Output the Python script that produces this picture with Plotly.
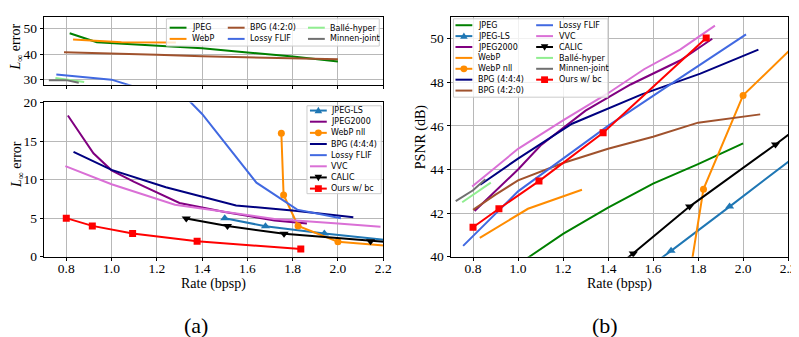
import plotly.graph_objects as go

W, H = 799, 337

# ---------------- data ----------------
jpeg_rate = [0.815, 0.935, 1.05, 1.2, 1.4, 1.6, 1.8, 2.0]
jpeg_linf = [48.1, 44.6, 44.0, 43.3, 42.3, 40.6, 39.0, 37.1]
jpeg_psnr = [38.5, 39.2, 40.0, 41.05, 42.25, 43.35, 44.25, 45.2]

jpegls_rate = [1.5, 1.68, 1.94, 2.27]
jpegls_linf = [5.0, 3.95, 3.0, 2.0]
jpegls_psnr = [38.9, 40.27, 42.3, 44.9]

j2k_rate = [0.807, 0.92, 1.0, 1.1, 1.3, 1.5, 1.72, 1.863]
j2k_linf = [18.3, 13.4, 11.2, 9.7, 6.97, 5.8, 4.7, 4.3]
j2k_psnr = [42.1, 43.2, 44.0, 45.1, 46.7, 47.9, 49.0, 50.0]

webp_rate = [0.83, 1.044, 1.284]
webp_linf = [45.7, 44.6, 44.5]
webp_psnr = [40.87, 42.2, 43.07]

webpnll_rate = [1.75, 1.76, 1.824, 2.0, 2.4]
webpnll_linf = [16.0, 8.0, 4.0, 1.95, 1.0]
webpnll_psnr = [36.5, 39.0, 43.1, 47.4, 51.4]

bpg444_rate = [0.832, 1.0, 1.24, 1.55, 1.81, 2.068]
bpg444_linf = [13.6, 11.25, 9.0, 6.65, 5.95, 5.12]
bpg444_psnr = [43.3, 44.5, 46.1, 47.45, 48.4, 49.5]

bpg420_rate_l = [0.79, 1.0, 1.2, 1.4, 1.6, 1.8, 2.0]
bpg420_linf = [40.7, 40.3, 39.7, 39.1, 38.8, 38.5, 38.0]
bpg420_rate_p = [0.8, 0.9, 1.0, 1.2, 1.4, 1.6, 1.8, 2.0, 2.076]
bpg420_psnr = [42.15, 42.85, 43.5, 44.3, 44.95, 45.5, 46.15, 46.45, 46.53]

flif_rate = [0.756, 1.0, 1.2, 1.4, 1.64, 1.82, 2.013]
flif_linf = [32.0, 30.0, 24.5, 18.5, 9.6, 6.1, 5.0]
flif_psnr = [40.5, 43.0, 44.5, 46.0, 47.65, 48.9, 50.2]

vvc_rate_l = [0.796, 1.0, 1.28, 1.5, 1.72, 2.0, 2.188]
vvc_linf = [11.75, 9.4, 6.75, 5.8, 4.9, 4.3, 3.9]
vvc_rate_p = [0.796, 1.0, 1.2, 1.4, 1.56, 1.72, 1.875]
vvc_psnr = [43.22, 44.95, 46.25, 47.5, 48.6, 49.5, 50.6]

calic_rate = [1.33, 1.512, 1.762, 2.144, 2.6]
calic_linf = [4.95, 3.97, 2.97, 2.0, 1.0]
calic_psnr = [38.6, 40.15, 42.3, 45.15, 48.7]

balle_rate = [0.752, 0.879]
balle_linf = [30.6, 29.1]
balle_psnr = [42.5, 43.4]

minnen_rate = [0.723, 0.80, 0.855]
minnen_linf = [29.8, 29.8, 28.8]
minnen_psnr = [42.55, 43.05, 43.55]

ours_rate = [0.80, 0.915, 1.093, 1.378, 1.836]
ours_linf = [5.0, 4.0, 3.0, 2.0, 1.0]
ours_psnr = [41.35, 42.2, 43.47, 45.69, 50.03]

x_ticks = [0.8, 1.0, 1.2, 1.4, 1.6, 1.8, 2.0, 2.2]
x_ticklabels = ["0.8", "1.0", "1.2", "1.4", "1.6", "1.8", "2.0", "2.2"]
y_top_ticks = [30, 40, 50]
y_bot_ticks = [0, 5, 10, 15, 20]
y_psnr_ticks = [40, 42, 44, 46, 48, 50]

# ---------------- styles ----------------
STY = {
    "JPEG": ("#008000", None),
    "JPEG-LS": ("#1f77b4", "triangle-up"),
    "JPEG2000": ("#800080", None),
    "WebP": ("#ff8c00", None),
    "WebP nll": ("#ff8c00", "circle"),
    "BPG (4:4:4)": ("#000080", None),
    "BPG (4:2:0)": ("#a0522d", None),
    "Lossy FLIF": ("#4169e1", None),
    "VVC": ("#da70d6", None),
    "CALIC": ("#000000", "triangle-down"),
    "Ballé-hyper": ("#90ee90", None),
    "Minnen-joint": ("#707070", None),
    "Ours w/ bc": ("#ff0000", "square"),
}
MSIZE = {"triangle-up": 8, "triangle-down": 8, "circle": 7, "square": 7}

fig = go.Figure()


def add(name, xs, ys, xa, ya):
    color, sym = STY[name]
    kw = dict(x=xs, y=ys, name=name, showlegend=False, xaxis=xa, yaxis=ya,
              line=dict(color=color, width=2), hoverinfo="skip")
    if sym:
        kw["mode"] = "lines+markers"
        kw["marker"] = dict(symbol=sym, size=MSIZE[sym], color=color, line=dict(width=0))
    else:
        kw["mode"] = "lines"
    fig.add_trace(go.Scatter(**kw))


# left top (broken axis, high L-inf)
add("JPEG", jpeg_rate, jpeg_linf, "x2", "y2")
add("WebP", webp_rate, webp_linf, "x2", "y2")
add("BPG (4:2:0)", bpg420_rate_l, bpg420_linf, "x2", "y2")
add("Lossy FLIF", flif_rate, flif_linf, "x2", "y2")
add("Ballé-hyper", balle_rate, balle_linf, "x2", "y2")
add("Minnen-joint", minnen_rate, minnen_linf, "x2", "y2")

# left bottom
add("JPEG-LS", jpegls_rate, jpegls_linf, "x", "y")
add("JPEG2000", j2k_rate, j2k_linf, "x", "y")
add("WebP nll", webpnll_rate, webpnll_linf, "x", "y")
add("BPG (4:4:4)", bpg444_rate, bpg444_linf, "x", "y")
add("Lossy FLIF", flif_rate, flif_linf, "x", "y")
add("VVC", vvc_rate_l, vvc_linf, "x", "y")
add("CALIC", calic_rate, calic_linf, "x", "y")
add("Ours w/ bc", ours_rate, ours_linf, "x", "y")

# right (PSNR)
add("JPEG", jpeg_rate, jpeg_psnr, "x3", "y3")
add("JPEG-LS", jpegls_rate, jpegls_psnr, "x3", "y3")
add("JPEG2000", j2k_rate, j2k_psnr, "x3", "y3")
add("WebP", webp_rate, webp_psnr, "x3", "y3")
add("WebP nll", webpnll_rate, webpnll_psnr, "x3", "y3")
add("BPG (4:4:4)", bpg444_rate, bpg444_psnr, "x3", "y3")
add("BPG (4:2:0)", bpg420_rate_p, bpg420_psnr, "x3", "y3")
add("Lossy FLIF", flif_rate, flif_psnr, "x3", "y3")
add("VVC", vvc_rate_p, vvc_psnr, "x3", "y3")
add("CALIC", calic_rate, calic_psnr, "x3", "y3")
add("Ballé-hyper", balle_rate, balle_psnr, "x3", "y3")
add("Minnen-joint", minnen_rate, minnen_psnr, "x3", "y3")
add("Ours w/ bc", ours_rate, ours_psnr, "x3", "y3")


def px(x):
    return x / W


def py(y):
    return 1 - y / H


SERIF = "Liberation Serif, Times New Roman, serif"
tickfont = dict(family=SERIF, size=13.5, color="black")


def xax(dom, labels=True):
    return dict(domain=dom, range=[0.7, 2.2], tickvals=x_ticks, ticktext=x_ticklabels,
                showticklabels=labels, ticks="outside", ticklen=3, tickcolor="black",
                showline=True, linecolor="black", linewidth=1, mirror=True,
                showgrid=True, gridcolor="#b8b8b8", gridwidth=1, zeroline=False,
                tickfont=tickfont, fixedrange=True, ticklabelstandoff=-4)


def yax(dom, rng, ticks):
    return dict(domain=dom, range=rng, tickvals=ticks, ticks="outside", ticklen=3,
                tickcolor="black", showline=True, linecolor="black", linewidth=1,
                mirror=True, showgrid=True, gridcolor="#b8b8b8", gridwidth=1,
                zeroline=False, tickfont=tickfont, fixedrange=True)


LX = [px(36), px(379)]
RX = [px(447), px(788)]
fig.update_layout(
    width=W, height=H, margin=dict(l=0, r=0, t=0, b=0),
    paper_bgcolor="white", plot_bgcolor="white", showlegend=False,
    xaxis=dict(xax(LX), anchor="y"),
    yaxis=dict(yax([py(253), py(91.5)], [0, 20], y_bot_ticks), anchor="x"),
    xaxis2=dict(xax(LX, labels=False), anchor="y2"),
    yaxis2=dict(yax([py(73), py(2)], [28, 54.5], y_top_ticks), anchor="x2"),
    xaxis3=dict(xax(RX), anchor="y3"),
    yaxis3=dict(yax([py(253), py(2)], [40, 51], y_psnr_ticks), anchor="x3"),
)

shapes = []
annots = []
LEGFONT = dict(family="DejaVu Sans", size=8, color="black")


def legend(box, cols, y0, dy, hx_len=17, tx_off=21.5):
    # box: (x0, y0, x1, y1) in pixels; cols: list of (handle_x, [names])
    bx0, by0, bx1, by1 = box
    shapes.append(dict(type="rect", xref="paper", yref="paper", layer="above",
                       x0=px(bx0), x1=px(bx1), y0=py(by1), y1=py(by0),
                       fillcolor="rgba(255,255,255,0.8)", line=dict(color="#cccccc", width=1)))
    for hx, names in cols:
        for i, nm in enumerate(names):
            yy = y0 + i * dy
            color, sym = STY[nm]
            shapes.append(dict(type="line", xref="paper", yref="paper", layer="above",
                               x0=px(hx), x1=px(hx + hx_len), y0=py(yy), y1=py(yy),
                               line=dict(color=color, width=2)))
            cx = hx + hx_len / 2
            r = 3.5
            if sym == "square":
                shapes.append(dict(type="rect", xref="paper", yref="paper", layer="above",
                                   x0=px(cx - r), x1=px(cx + r), y0=py(yy + r), y1=py(yy - r),
                                   fillcolor=color, line=dict(width=0)))
            elif sym == "circle":
                shapes.append(dict(type="circle", xref="paper", yref="paper", layer="above",
                                   x0=px(cx - r), x1=px(cx + r), y0=py(yy + r), y1=py(yy - r),
                                   fillcolor=color, line=dict(width=0)))
            elif sym in ("triangle-up", "triangle-down"):
                s = -1 if sym == "triangle-up" else 1
                p = "M {},{} L {},{} L {},{} Z".format(
                    px(cx), py(yy + s * r * 1.1),
                    px(cx - r * 1.1), py(yy - s * r * 0.8),
                    px(cx + r * 1.1), py(yy - s * r * 0.8))
                shapes.append(dict(type="path", xref="paper", yref="paper", layer="above",
                                   path=p, fillcolor=color, line=dict(width=0)))
            annots.append(dict(x=px(hx + tx_off), y=py(yy), xref="paper", yref="paper",
                               text=nm, showarrow=False, xanchor="left", yanchor="middle",
                               font=LEGFONT, borderpad=0))


legend((160, 4, 375, 32.5),
       [(163.3, ["JPEG", "WebP"]), (222, ["BPG (4:2:0)", "Lossy FLIF"]),
        (303, ["Ballé-hyper", "Minnen-joint"])], 13.3, 11.7)
legend((302, 95, 377, 187),
       [(305, ["JPEG-LS", "JPEG2000", "WebP nll", "BPG (4:4:4)", "Lossy FLIF", "VVC",
               "CALIC", "Ours w/ bc"])], 100, 11.67, tx_off=20.5)
legend((450, 4, 606, 86),
       [(452, ["JPEG", "JPEG-LS", "JPEG2000", "WebP", "WebP nll", "BPG (4:4:4)", "BPG (4:2:0)"]),
        (533.5, ["Lossy FLIF", "VVC", "CALIC", "Ballé-hyper", "Minnen-joint", "Ours w/ bc"])],
       10.7, 11.4, tx_off=22)

titlefont = dict(family=SERIF, size=14, color="black")
for (x, y, t, ang) in [(9, 33, "<i>L</i><sub>∞</sub> error", -90),
                       (9, 156, "<i>L</i><sub>∞</sub> error", -90),
                       (418, 127, "PSNR (dB)", -90),
                       (207.5, 282, "Rate (bpsp)", 0),
                       (618, 282, "Rate (bpsp)", 0)]:
    annots.append(dict(x=px(x), y=py(y), xref="paper", yref="paper", text=t,
                       showarrow=False, textangle=ang, font=titlefont,
                       xanchor="center", yanchor="middle"))
for (x, y, t) in [(190, 325, "(a)"), (603, 325, "(b)")]:
    annots.append(dict(x=px(x), y=py(y), xref="paper", yref="paper", text=t,
                       showarrow=False, font=dict(family=SERIF, size=22, color="black"),
                       xanchor="center", yanchor="middle"))

fig.update_layout(shapes=shapes, annotations=annots)
fig.write_html("out.html")
